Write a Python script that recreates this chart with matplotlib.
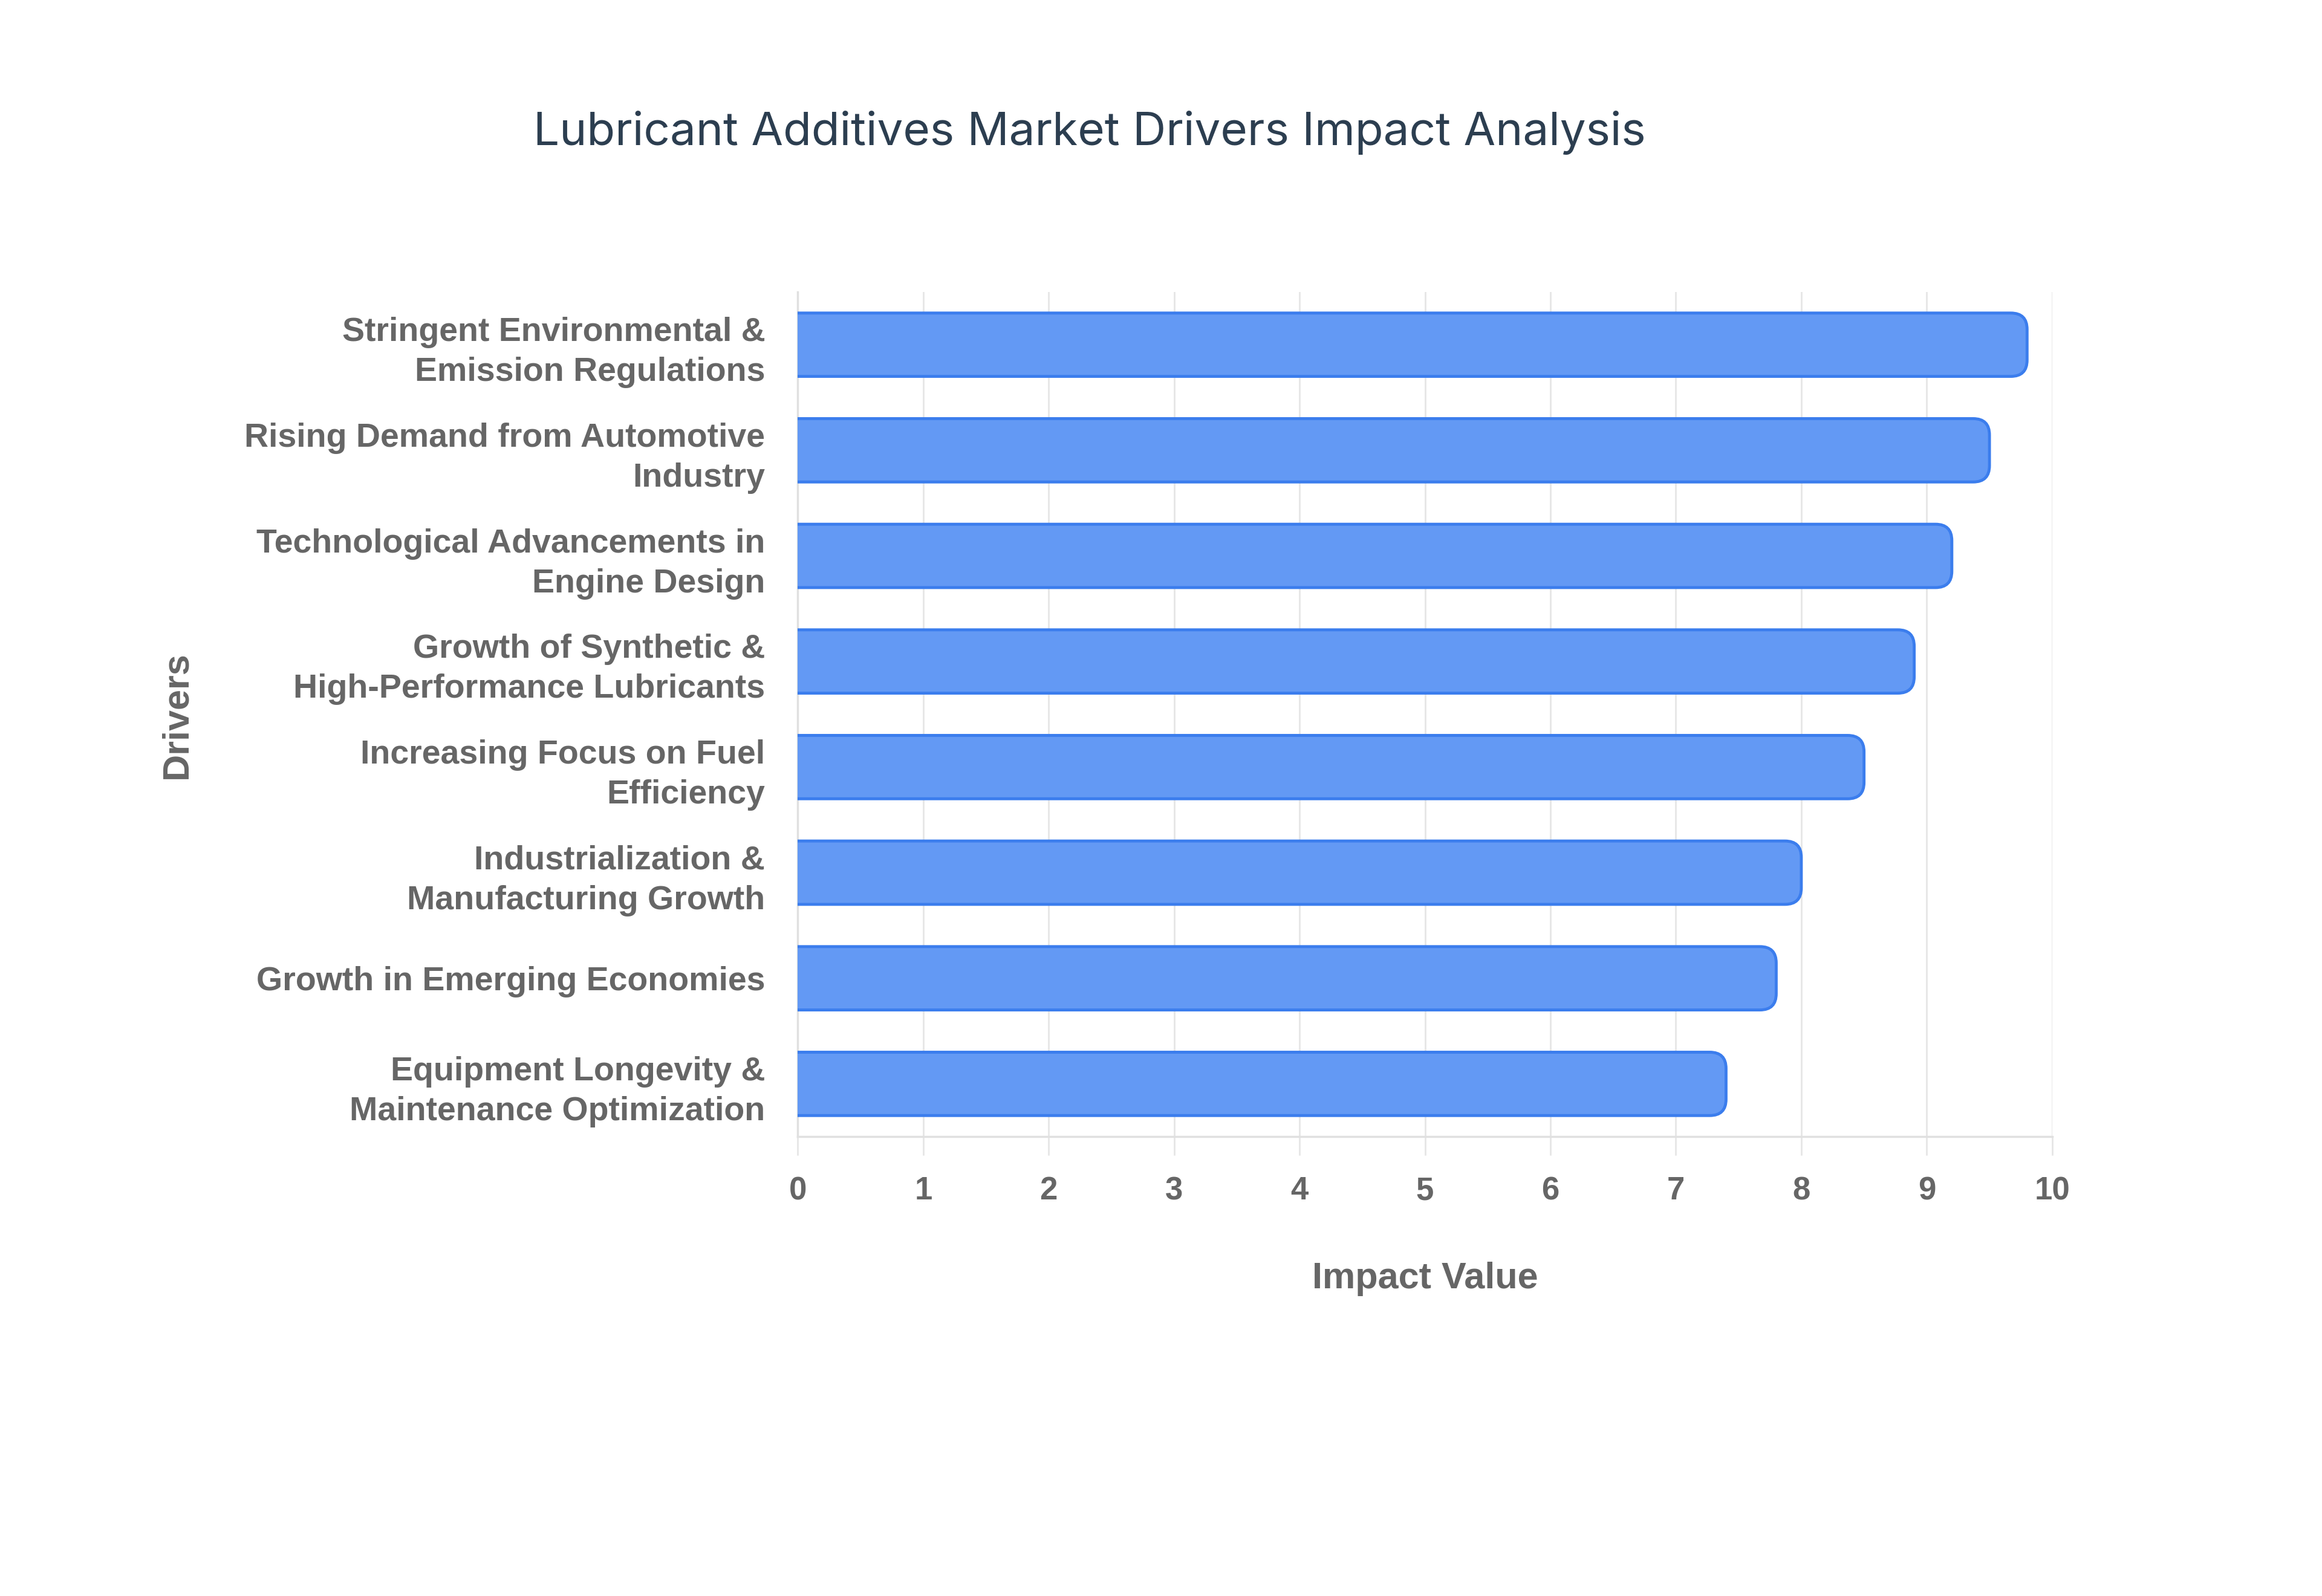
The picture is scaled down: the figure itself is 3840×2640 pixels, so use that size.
import numpy as np
import matplotlib
matplotlib.use('Agg')
import matplotlib.pyplot as plt
from matplotlib.patches import FancyBboxPatch

drivers = [
    'Stringent Environmental &\nEmission Regulations',
    'Rising Demand from Automotive\nIndustry',
    'Technological Advancements in\nEngine Design',
    'Growth of Synthetic &\nHigh-Performance Lubricants',
    'Increasing Focus on Fuel\nEfficiency',
    'Industrialization &\nManufacturing Growth',
    'Growth in Emerging Economies',
    'Equipment Longevity &\nMaintenance Optimization',
]
impact = [9.8, 9.5, 9.2, 8.9, 8.5, 8.0, 7.8, 7.4]
x_ticks = list(range(0, 11))

fig = plt.figure(figsize=(38.4, 26.4), dpi=100)
ax = fig.add_axes([0.3436, 0.2878, 0.5402, 0.5293])

y = np.arange(len(drivers))
bar_h = 0.6
for yi, v in zip(y, impact):
    # start left of the axis so the left rounding is clipped away
    p = FancyBboxPatch((-0.5, yi - bar_h / 2), v + 0.5, bar_h,
                       boxstyle='round,pad=0,rounding_size=0.13',
                       mutation_aspect=1.19,
                       facecolor='#6399f4', edgecolor='#3b7ded',
                       linewidth=3.5, zorder=3)
    ax.add_patch(p)

ax.set_xlim(0, 10)
ax.set_ylim(len(drivers) - 0.5, -0.5)
ax.set_xticks(x_ticks)
ax.set_yticks(y)
ax.set_yticklabels(drivers, fontsize=40, fontweight='bold', color='#666666',
                   family='Liberation Sans', linespacing=1.35)
for lbl in ax.get_yticklabels():
    lbl.set_y(lbl.get_position()[1])
    lbl.set_va('center_baseline')
ax.set_xticklabels([str(t) for t in x_ticks], fontsize=38, fontweight='bold',
                   color='#666666', family='Liberation Sans')
ax.tick_params(axis='x', length=22, width=2, color='#e6e6e6', pad=25)
ax.tick_params(axis='y', length=0, pad=39)

ax.grid(axis='x', color='#e6e6e6', linewidth=2, zorder=0)
ax.set_axisbelow(True)
for s in ['top', 'right']:
    ax.spines[s].set_visible(False)
ax.spines['left'].set_color('#e0e0e0')
ax.spines['left'].set_linewidth(2.5)
ax.spines['bottom'].set_color('#e0e0e0')
ax.spines['bottom'].set_linewidth(2.5)

ax.set_xlabel('Impact Value', fontsize=44, fontweight='bold', color='#666666',
              family='Liberation Sans', labelpad=66)
fig.text(0.0763, 0.552, 'Drivers', rotation=90, fontsize=44, fontweight='bold',
         color='#666666', family='Liberation Sans', ha='center', va='center')

fig.text(0.4693, 0.917, 'Lubricant Additives Market Drivers Impact Analysis',
         fontsize=55, color='#2c3e50', family='Inter', ha='center', va='center')

fig.savefig('out.png', dpi=100, facecolor='white')
